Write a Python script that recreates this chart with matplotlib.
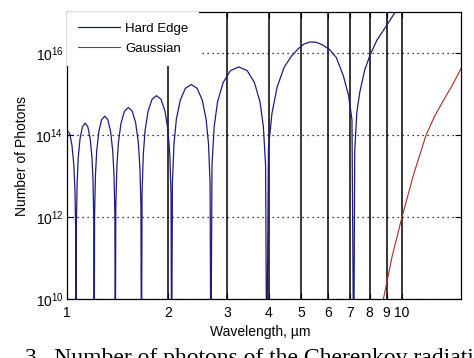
import numpy as np
import matplotlib
matplotlib.use("Agg")
import matplotlib.pyplot as plt
from matplotlib.ticker import FuncFormatter, NullLocator

plt.rcParams['font.family'] = ['Liberation Sans', 'DejaVu Sans']
plt.rcParams['mathtext.default'] = 'regular'

# hard edge spectrum: wavelength (um) and log10(number of photons)
# (dips drop far below the axis, 1e8 used there)
hard_wl = [1.000, 1.019, 1.035, 1.048, 1.056, 1.061, 1.064,
           1.0669, 1.0722, 1.0802, 1.0938, 1.1116, 1.1325, 1.1539, 1.1727, 1.1874, 1.1963, 1.2023, 1.2053,
           1.2088, 1.2158, 1.2265, 1.2444, 1.2681, 1.2960, 1.3245, 1.3498, 1.3695, 1.3815, 1.3896, 1.3936,
           1.3986, 1.4087, 1.4240, 1.4498, 1.4841, 1.5247, 1.5664, 1.6034, 1.6325, 1.6502, 1.6621, 1.6681,
           1.6750, 1.6890, 1.7101, 1.7460, 1.7937, 1.8504, 1.9089, 1.9611, 2.0022, 2.0273, 2.0441, 2.0526,
           2.0637, 2.0861, 2.1202, 2.1781, 2.2558, 2.3489, 2.4459, 2.5332, 2.6024, 2.6448, 2.6736, 2.6880,
           2.7087, 2.7506, 2.8147, 2.9248, 3.0746, 3.2566, 3.4497, 3.6261, 3.7679, 3.8557, 3.9153, 3.9455,
           3.9929, 4.0896, 4.2390, 4.4469, 4.6647, 4.8934, 5.1028, 5.3208, 5.5485, 5.7854, 6.0690, 6.3665,
           6.6787, 6.9226, 7.0902, 7.1756,
           7.225, 7.33, 7.48, 7.74, 8.01, 8.41, 9.01, 9.55, 10.33, 11.1]
hard_exp = [14.12, 14.03, 13.74, 13.27, 12.67, 11.72, 8,
            11.89, 12.84, 13.44, 13.91, 14.20, 14.29, 14.20, 13.91, 13.44, 12.84, 11.89, 8,
            12.06, 13.01, 13.61, 14.08, 14.37, 14.46, 14.37, 14.08, 13.61, 13.01, 12.06, 8,
            12.27, 13.22, 13.82, 14.29, 14.58, 14.67, 14.58, 14.29, 13.82, 13.22, 12.27, 8,
            12.56, 13.51, 14.11, 14.58, 14.87, 14.96, 14.87, 14.58, 14.11, 13.51, 12.56, 8,
            12.83, 13.78, 14.38, 14.85, 15.14, 15.23, 15.14, 14.85, 14.38, 13.78, 12.83, 8,
            13.26, 14.21, 14.81, 15.28, 15.57, 15.66, 15.57, 15.28, 14.81, 14.21, 13.26, 8,
            13.67, 14.52, 15.17, 15.65, 15.91, 16.10, 16.22, 16.27, 16.26, 16.20, 16.09, 15.89,
            15.45, 14.97, 14.37, 8,
            13.6, 14.55, 15.04, 15.59, 15.93, 16.31, 16.68, 17.0, 17.2, 17.4]

# gaussian spectrum
gauss_wl = [8.6, 8.8, 9.35, 10.0, 10.84, 11.8, 12.5, 13.2, 14.1, 15.2]
gauss_exp = [9.6, 10.0, 11.05, 12.0, 13.05, 14.0, 14.45, 14.8, 15.2, 15.71]

xtick_vals = [1, 2, 3, 4, 5, 6, 7, 8, 9, 10]
xtick_labels = ['1', '2', '3', '4', '5', '6', '7', '8', '9', '10']
ytick_vals = [1e10, 1e12, 1e14, 1e16]

fig = plt.figure(figsize=(4.74, 3.58), dpi=100)
ax = fig.add_axes([67/474, 1-299/358, (461-67)/474, (299-12)/358])

ax.plot(hard_wl, 10**np.array(hard_exp), color='#1c1c86', lw=0.9, label='Hard Edge')
ax.plot(gauss_wl, 10**np.array(gauss_exp), color='#b02828', lw=0.8, label='Gaussian')

ax.set_xscale('log')
ax.set_yscale('log')
ax.set_xlim(1, 15)
ax.set_ylim(1e10, 1e17)

ax.set_xticks(xtick_vals)
ax.set_xticklabels(xtick_labels)
ax.xaxis.set_minor_locator(NullLocator())
ax.set_yticks(ytick_vals)
ax.yaxis.set_minor_locator(NullLocator())
ax.yaxis.set_major_formatter(FuncFormatter(lambda v, p: r'$10^{%d}$' % round(np.log10(v))))

ax.xaxis.grid(True, color='k', ls='-', lw=1.1)
ax.yaxis.grid(True, color='k', ls=(0, (1, 3)), lw=0.9)
ax.tick_params(direction='in', top=True, right=True, length=4, width=0.8,
               labelsize=10, colors='k')
ax.tick_params(axis='x', pad=5)
ax.tick_params(axis='y', pad=2.5)
for s in ax.spines.values():
    s.set_linewidth(0.9)

leg = ax.legend(loc='upper left', bbox_to_anchor=(0, 1), borderaxespad=0,
                frameon=True, fancybox=False, edgecolor='none', facecolor='white',
                framealpha=1, fontsize=9.5, handlelength=3.2, handletextpad=0.4,
                borderpad=0.8, labelspacing=0.6)

fig.text(22/474, 1-156/358, 'Number of Photons', rotation=90, ha='center', va='center', fontsize=10)
fig.text(260/474, 1-332/358, 'Wavelength, \u00b5m', ha='center', va='center', fontsize=10)

# caption of the paper, cut by the bottom of the picture
fig.text(25/474, 1-364/358, '3.  Number of photons of the Cherenkov radiation',
         family='Liberation Serif', fontsize=17, va='baseline')

fig.savefig('out.png', dpi=100)
